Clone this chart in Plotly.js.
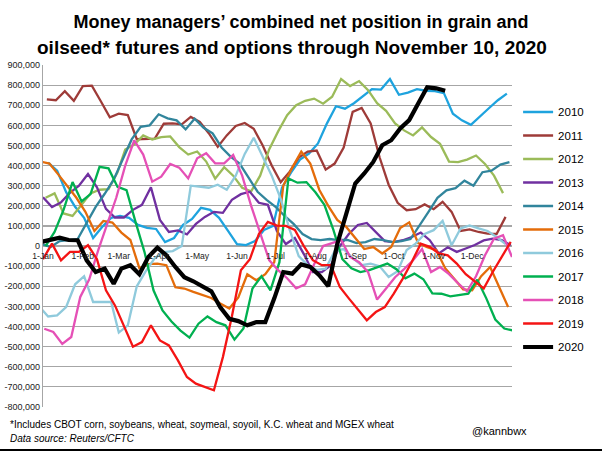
<!DOCTYPE html>
<html>
<head>
<meta charset="utf-8">
<script src="https://cdn.plot.ly/plotly-3.0.1.min.js"></script>
<style>
  html, body { margin: 0; padding: 0; background: #ffffff; }
  #chart { width: 602px; height: 451px; }
</style>
</head>
<body>
<div id="chart"></div>
<script>
// Money managers' combined net position, grain and oilseed futures and options.
// Weekly CFTC report values, thousands of contracts.
const years = ['2010', '2011', '2012', '2013', '2014', '2015', '2016', '2017', '2018', '2019', '2020'];

// Date of the first weekly report drawn for each year
const firstReport = ['2010-01-05', '2011-01-04', '2012-01-03', '2013-01-01', '2013-12-31', '2014-12-30',
                     '2015-12-29', '2017-01-03', '2018-01-02', '2019-01-01', '2019-12-31'];

const net2010 = [415, 375, 268, 195, 140, 40, 95, 140, 150, 140, 105, 90, 85, 20, 40, 105, 135, 190, 180, 140,
                 75, 10, 5, 25, 80, 100, 290, 365, 430, 460, 510, 610, 695, 683, 710, 745, 780, 778, 830, 752,
                 763, 780, 772, 770, 760, 658, 625, 603, 642, 685, 725, 758];
const net2011 = [729, 725, 770, 722, 795, 797, 720, 640, 658, 651, 531, 531, 534, 608, 610, 605, 642, 617, 561, 493,
                 550, 597, 612, 583, 500, 400, 317, 370, 440, 470, 475, 380, 410, 490, 667, 687, 610, 440, 305, 215,
                 178, 183, 207, 183, 220, 170, 75, 83, 70, 62, 60, 145];
const net2012 = [240, 262, 162, 150, 205, 262, 280, 283, 367, 480, 505, 550, 530, 542, 545, 492, 455, 470, 420, 335,
                 392, 350, 290, 272, 350, 480, 570, 650, 700, 722, 733, 708, 742, 830, 795, 820, 775, 710, 672, 610,
                 575, 550, 590, 542, 508, 420, 417, 430, 450, 408, 350, 263];
const net2013 = [242, 194, 217, 265, 300, 358, 292, 185, 142, 142, 180, 205, 292, 130, 70, 78, 58, 110, 145, 170,
                 165, 230, 258, 270, 215, 205, 75, 10, 40, -40, -130, -130, -95, 0, 60, 105, 115, 70, 25, 20,
                 29, 45, 67, 29, -37, -6, -29, -12, 5, 28, 37, 29, 4];
const net2014 = [10, -5, 25, 30, 35, 115, 195, 260, 330, 430, 530, 593, 600, 655, 635, 625, 580, 633, 588, 560,
                 490, 445, 410, 340, 270, 230, 195, 150, 110, 60, 35, 30, 35, 30, 30, 15, 20, 35, 30, 20,
                 25, 35, 100, 170, 240, 277, 288, 325, 300, 367, 375, 405, 417];
const net2015 = [420, 410, 355, 295, 240, 170, 75, 125, 117, 67, 30, -110, -90, -87, -95, -205, -211, -228, -242, -258,
                 -285, -310, -255, -140, -170, -140, -79, 300, 390, 470, 410, 280, 200, 130, 95, 40, -15, -5, -37, -5,
                 90, 118, 15, -5, -20, -110, -165, -215, -220, -150, -104, -200, -303];
const net2016 = [-300, -350, -345, -303, -190, -150, -278, -278, -278, -430, -394, -200, -125, -60, -30, -25, 0, 300, 295, 290,
                 305, 280, 350, 458, 538, 445, 350, 235, 80, -50, -95, -118, -112, -25, -15, -60, -95, -87, -100, -154,
                 -125, -20, 12, 60, 79, 125, 4, 88, 103, 88, 75, 45, 10];
const net2017 = [0, 70, 180, 318, 222, 258, 394, 386, 294, 278, 120, -30, -220, -320, -375, -420, -455, -386, -350, -378,
                 -394, -465, -410, -211, -150, -220, -80, 336, 315, 318, 267, 205, 80, -65, -110, -129, -120, -104, -87, -115,
                 -160, -137, -165, -235, -237, -250, -245, -237, -167, -260, -365, -410, -420];
const net2018 = [-411, -427, -486, -452, -253, -165, -20, 115, 240, 400, 525, 455, 320, 345, 408, 390, 336, 436, 461, 411,
                 411, 453, 350, 200, 70, -70, -120, -160, -210, -190, -90, 0, 15, 30, -54, -80, -130, -266, -211, -155,
                 -115, -71, -15, -129, -104, -140, -185, -225, -150, -46, 37, 54, -55];
const net2019 = [-65, 12, -71, -29, -29, 4, -65, -220, -295, -395, -500, -477, -394, -469, -494, -568, -651, -684, -700, -717,
                 -552, -350, -120, -65, 60, 120, 102, 100, 80, 0, -70, -95, -95, -203, -260, -315, -369, -328, -303, -236,
                 -162, -79, 12, -4, -37, -46, -87, -140, -175, -211, -129, -54, 21];
const net2020 = [21, 29, 42, 30, 29, -71, -129, -112, -187, -112, -95, -140, -54, -8, -46, -104, -155, -175, -203, -225,
                 -305, -362, -373, -394, -378, -378, -260, -129, -137, -91, -104, -145, -200, 10, 160, 311, 361, 418, 501, 526,
                 585, 626, 709, 789, 784, 772];

const seriesValues = [net2010, net2011, net2012, net2013, net2014, net2015, net2016, net2017, net2018, net2019, net2020];

// Axis labels
const monthTicks = ['2001-01-01', '2001-02-01', '2001-03-01', '2001-04-01', '2001-05-01', '2001-06-01',
                    '2001-07-01', '2001-08-01', '2001-09-01', '2001-10-01', '2001-11-01', '2001-12-01'];
const monthLabels = ['1-Jan', '1-Feb', '1-Mar', '1-Apr', '1-May', '1-Jun', '1-Jul', '1-Aug', '1-Sep', '1-Oct', '1-Nov', '1-Dec'];
const positionTicks = [-800000, -700000, -600000, -500000, -400000, -300000, -200000, -100000, 0,
                       100000, 200000, 300000, 400000, 500000, 600000, 700000, 800000, 900000];
const positionLabels = ['-800,000', '-700,000', '-600,000', '-500,000', '-400,000', '-300,000', '-200,000', '-100,000', '0',
                        '100,000', '200,000', '300,000', '400,000', '500,000', '600,000', '700,000', '800,000', '900,000'];

const titleLines = ['Money managers’ combined net position in grain and',
                    'oilseed* futures and options through November 10, 2020'];

const lineColors = ['#1EA3DE', '#9E3B38', '#9BBB59', '#7030A0', '#31859C', '#E46C0A',
                    '#8FCADC', '#00B050', '#E550B6', '#F41414', '#000000'];

// Every year is laid on one shared calendar year so the seasons line up.
function seasonalDates(first, count, year) {
  const out = [];
  const start = new Date(first + 'T00:00:00Z');
  for (let k = 0; k < count; k++) {
    const d = new Date(start.getTime() + k * 7 * 86400000);
    const shownYear = 2001 + (d.getUTCFullYear() - Number(year));
    const mm = String(d.getUTCMonth() + 1).padStart(2, '0');
    const dd = String(d.getUTCDate()).padStart(2, '0');
    out.push(shownYear + '-' + mm + '-' + dd);
  }
  return out;
}

const traces = years.map((yr, i) => ({
  type: 'scatter',
  mode: 'lines',
  name: yr,
  legendgroup: yr,
  x: seasonalDates(firstReport[i], seriesValues[i].length, yr),
  y: seriesValues[i].map(v => v * 1000),
  line: { color: lineColors[i], width: yr === '2020' ? 4.2 : 2.3 },
  hoverinfo: 'skip'
}));

const font = 'Arial, "Liberation Sans", sans-serif';

const layout = {
  width: 602,
  height: 451,
  margin: { l: 43, r: 74, t: 65, b: 44, pad: 0 },
  paper_bgcolor: '#ffffff',
  plot_bgcolor: '#ffffff',
  font: { family: font, color: '#000000' },
  title: {
    text: titleLines[0],
    font: { family: font, size: 18, color: '#000000', weight: 'bold' },
    x: 0.5, xref: 'container', xanchor: 'center',
    y: 1 - 22 / 451, yref: 'container', yanchor: 'middle'
  },
  xaxis: {
    type: 'date',
    range: ['2001-01-01', '2002-01-01'],
    tickvals: monthTicks,
    ticktext: monthLabels,
    ticks: '',
    ticklabelstandoff: 3,
    showgrid: false,
    zeroline: false,
    showline: false,
    anchor: 'free',
    position: 800 / 1700,
    tickfont: { family: font, size: 8.6, color: '#222222' },
    fixedrange: true
  },
  yaxis: {
    range: [-800000, 900000],
    tickvals: positionTicks,
    ticktext: positionLabels,
    ticks: '',
    showgrid: true,
    gridcolor: '#A6A6A6',
    gridwidth: 1.2,
    zeroline: false,
    showline: true,
    linecolor: '#A6A6A6',
    linewidth: 1.2,
    tickfont: { family: font, size: 9, color: '#222222' },
    fixedrange: true
  },
  showlegend: true,
  legend: {
    x: 1.013, xanchor: 'left',
    y: 0.905, yanchor: 'top',
    traceorder: 'grouped',
    tracegroupgap: 4.5,
    itemwidth: 30,
    font: { family: font, size: 11.5, color: '#000000' },
    bgcolor: 'rgba(0,0,0,0)',
    borderwidth: 0
  },
  annotations: [
    {
      text: titleLines[1],
      xref: 'paper', yref: 'paper', x: (301 - 43) / 485, y: (407 - 48) / 342,
      xanchor: 'center', yanchor: 'middle',
      showarrow: false, font: { family: font, size: 19, color: '#000000', weight: 'bold' }
    },
    {
      text: '*Includes CBOT corn, soybeans, wheat, soymeal, soyoil, K.C. wheat and MGEX wheat',
      xref: 'paper', yref: 'paper', x: -0.074, y: -0.05, xanchor: 'left', yanchor: 'middle',
      showarrow: false, font: { family: font, size: 10, color: '#000000' }
    },
    {
      text: '<i>Data source: Reuters/CFTC</i>',
      xref: 'paper', yref: 'paper', x: -0.074, y: -0.091, xanchor: 'left', yanchor: 'middle',
      showarrow: false, font: { family: font, size: 10, color: '#000000' }
    },
    {
      text: '@kannbwx',
      xref: 'paper', yref: 'paper', x: 1.037, y: -0.07, xanchor: 'right', yanchor: 'middle',
      showarrow: false, font: { family: font, size: 11, color: '#000000' }
    }
  ],
  shapes: [
    {
      type: 'line', xref: 'paper', yref: 'paper',
      x0: -0.1, x1: 1.2, y0: -0.1257, y1: -0.1257,
      line: { color: '#000000', width: 2 }
    }
  ]
};

Plotly.newPlot('chart', traces, layout, { staticPlot: true, displayModeBar: false });
</script>
</body>
</html>
